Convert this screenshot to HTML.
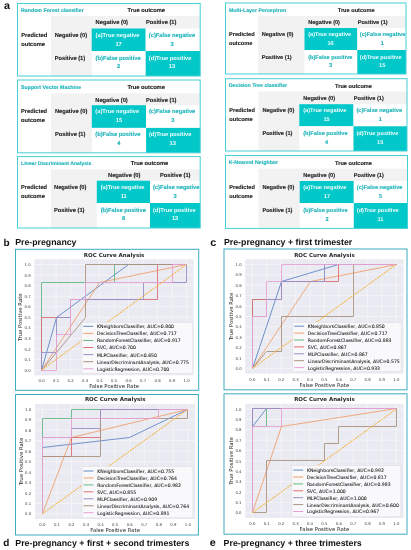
<!DOCTYPE html>
<html><head><meta charset="utf-8"><title>Figure</title>
<style>html,body{margin:0;padding:0;background:#fff}body{width:411px;height:550px;position:relative;overflow:hidden}</style>
</head><body>
<svg width="411" height="550" viewBox="0 0 411 550" style="position:absolute;left:0;top:0" text-rendering="geometricPrecision">
<rect x="51.00" y="16.00" width="149.20" height="60.00" fill="#f2f2f2"/>
<rect x="91.70" y="28.50" width="54.00" height="22.50" fill="#02c8c9"/>
<rect x="145.70" y="28.50" width="54.50" height="22.50" fill="#ffffff"/>
<rect x="91.70" y="51.00" width="54.00" height="25.00" fill="#ffffff"/>
<rect x="145.70" y="51.00" width="54.50" height="25.00" fill="#02c8c9"/>
<rect x="17.50" y="3.50" width="182.70" height="72.50" fill="none" stroke="#45cfd6" stroke-width="1"/>
<text x="21.00" y="12.00" font-family="'Liberation Sans',Arial,sans-serif" font-size="5.25" font-weight="bold" fill="#1fb4b9" text-anchor="start" stroke="#1fb4b9" stroke-width="0.12">Random Forest classifier</text>
<text x="127.50" y="12.20" font-family="'Liberation Sans',Arial,sans-serif" font-size="5.72" font-weight="bold" fill="#222" text-anchor="start" stroke="#222" stroke-width="0.12">True outcome</text>
<text x="95.60" y="24.30" font-family="'Liberation Sans',Arial,sans-serif" font-size="5.72" font-weight="bold" fill="#222" text-anchor="start" stroke="#222" stroke-width="0.12">Negative (0)</text>
<text x="145.90" y="24.30" font-family="'Liberation Sans',Arial,sans-serif" font-size="5.72" font-weight="bold" fill="#222" text-anchor="start" stroke="#222" stroke-width="0.12">Positive (1)</text>
<text x="54.70" y="37.30" font-family="'Liberation Sans',Arial,sans-serif" font-size="5.72" font-weight="bold" fill="#222" text-anchor="start" stroke="#222" stroke-width="0.12">Negative (0)</text>
<text x="54.70" y="59.60" font-family="'Liberation Sans',Arial,sans-serif" font-size="5.72" font-weight="bold" fill="#222" text-anchor="start" stroke="#222" stroke-width="0.12">Positive (1)</text>
<text x="21.20" y="37.10" font-family="'Liberation Sans',Arial,sans-serif" font-size="5.72" font-weight="bold" fill="#222" text-anchor="start" stroke="#222" stroke-width="0.12">Predicted</text>
<text x="21.20" y="45.80" font-family="'Liberation Sans',Arial,sans-serif" font-size="5.72" font-weight="bold" fill="#222" text-anchor="start" stroke="#222" stroke-width="0.12">outcome</text>
<text x="95.60" y="37.30" font-family="'Liberation Sans',Arial,sans-serif" font-size="5.72" font-weight="bold" fill="#f2fbfb" text-anchor="start">(a)True negative</text>
<text x="118.60" y="46.00" font-family="'Liberation Sans',Arial,sans-serif" font-size="5.72" font-weight="bold" fill="#f2fbfb" text-anchor="middle">17</text>
<text x="148.80" y="37.30" font-family="'Liberation Sans',Arial,sans-serif" font-size="5.72" font-weight="bold" fill="#1fb4b9" text-anchor="start" stroke="#1fb4b9" stroke-width="0.12">(c)False negative</text>
<text x="172.00" y="46.00" font-family="'Liberation Sans',Arial,sans-serif" font-size="5.72" font-weight="bold" fill="#1fb4b9" text-anchor="middle" stroke="#1fb4b9" stroke-width="0.12">3</text>
<text x="95.60" y="59.60" font-family="'Liberation Sans',Arial,sans-serif" font-size="5.72" font-weight="bold" fill="#1fb4b9" text-anchor="start" stroke="#1fb4b9" stroke-width="0.12">(b)False positive</text>
<text x="118.60" y="68.30" font-family="'Liberation Sans',Arial,sans-serif" font-size="5.72" font-weight="bold" fill="#1fb4b9" text-anchor="middle" stroke="#1fb4b9" stroke-width="0.12">2</text>
<text x="148.80" y="59.60" font-family="'Liberation Sans',Arial,sans-serif" font-size="5.72" font-weight="bold" fill="#f2fbfb" text-anchor="start">(d)True positive</text>
<text x="172.00" y="68.30" font-family="'Liberation Sans',Arial,sans-serif" font-size="5.72" font-weight="bold" fill="#f2fbfb" text-anchor="middle">13</text>
<rect x="51.00" y="93.30" width="149.20" height="59.50" fill="#f2f2f2"/>
<rect x="91.80" y="105.20" width="54.30" height="22.70" fill="#02c8c9"/>
<rect x="146.10" y="105.20" width="54.10" height="22.70" fill="#ffffff"/>
<rect x="91.80" y="127.90" width="54.30" height="24.90" fill="#ffffff"/>
<rect x="146.10" y="127.90" width="54.10" height="24.90" fill="#02c8c9"/>
<rect x="17.50" y="80.00" width="182.70" height="72.80" fill="none" stroke="#45cfd6" stroke-width="1"/>
<text x="21.00" y="88.60" font-family="'Liberation Sans',Arial,sans-serif" font-size="5.25" font-weight="bold" fill="#1fb4b9" text-anchor="start" stroke="#1fb4b9" stroke-width="0.12">Support Vector Machine</text>
<text x="127.40" y="88.70" font-family="'Liberation Sans',Arial,sans-serif" font-size="5.72" font-weight="bold" fill="#222" text-anchor="start" stroke="#222" stroke-width="0.12">True outcome</text>
<text x="95.30" y="101.60" font-family="'Liberation Sans',Arial,sans-serif" font-size="5.72" font-weight="bold" fill="#222" text-anchor="start" stroke="#222" stroke-width="0.12">Negative (0)</text>
<text x="146.00" y="101.60" font-family="'Liberation Sans',Arial,sans-serif" font-size="5.72" font-weight="bold" fill="#222" text-anchor="start" stroke="#222" stroke-width="0.12">Positive (1)</text>
<text x="54.90" y="113.20" font-family="'Liberation Sans',Arial,sans-serif" font-size="5.72" font-weight="bold" fill="#222" text-anchor="start" stroke="#222" stroke-width="0.12">Negative (0)</text>
<text x="54.90" y="136.10" font-family="'Liberation Sans',Arial,sans-serif" font-size="5.72" font-weight="bold" fill="#222" text-anchor="start" stroke="#222" stroke-width="0.12">Positive (1)</text>
<text x="21.00" y="113.10" font-family="'Liberation Sans',Arial,sans-serif" font-size="5.72" font-weight="bold" fill="#222" text-anchor="start" stroke="#222" stroke-width="0.12">Predicted</text>
<text x="21.00" y="121.80" font-family="'Liberation Sans',Arial,sans-serif" font-size="5.72" font-weight="bold" fill="#222" text-anchor="start" stroke="#222" stroke-width="0.12">outcome</text>
<text x="95.30" y="113.20" font-family="'Liberation Sans',Arial,sans-serif" font-size="5.72" font-weight="bold" fill="#f2fbfb" text-anchor="start">(a)True negative</text>
<text x="118.90" y="121.90" font-family="'Liberation Sans',Arial,sans-serif" font-size="5.72" font-weight="bold" fill="#f2fbfb" text-anchor="middle">15</text>
<text x="148.90" y="113.20" font-family="'Liberation Sans',Arial,sans-serif" font-size="5.72" font-weight="bold" fill="#1fb4b9" text-anchor="start" stroke="#1fb4b9" stroke-width="0.12">(c)False negative</text>
<text x="172.80" y="121.90" font-family="'Liberation Sans',Arial,sans-serif" font-size="5.72" font-weight="bold" fill="#1fb4b9" text-anchor="middle" stroke="#1fb4b9" stroke-width="0.12">3</text>
<text x="95.30" y="136.10" font-family="'Liberation Sans',Arial,sans-serif" font-size="5.72" font-weight="bold" fill="#1fb4b9" text-anchor="start" stroke="#1fb4b9" stroke-width="0.12">(b)False positive</text>
<text x="118.90" y="144.80" font-family="'Liberation Sans',Arial,sans-serif" font-size="5.72" font-weight="bold" fill="#1fb4b9" text-anchor="middle" stroke="#1fb4b9" stroke-width="0.12">4</text>
<text x="148.90" y="136.10" font-family="'Liberation Sans',Arial,sans-serif" font-size="5.72" font-weight="bold" fill="#f2fbfb" text-anchor="start">(d)True positive</text>
<text x="172.80" y="144.80" font-family="'Liberation Sans',Arial,sans-serif" font-size="5.72" font-weight="bold" fill="#f2fbfb" text-anchor="middle">13</text>
<rect x="51.00" y="169.30" width="149.20" height="58.70" fill="#f2f2f2"/>
<rect x="96.80" y="180.70" width="53.20" height="22.30" fill="#02c8c9"/>
<rect x="150.00" y="180.70" width="50.20" height="22.30" fill="#ffffff"/>
<rect x="96.80" y="203.00" width="53.20" height="25.00" fill="#ffffff"/>
<rect x="150.00" y="203.00" width="50.20" height="25.00" fill="#02c8c9"/>
<rect x="17.50" y="156.60" width="182.70" height="71.40" fill="none" stroke="#45cfd6" stroke-width="1"/>
<text x="21.00" y="165.20" font-family="'Liberation Sans',Arial,sans-serif" font-size="5.15" font-weight="bold" fill="#1fb4b9" text-anchor="start" stroke="#1fb4b9" stroke-width="0.12">Linear Discriminant Analysis</text>
<text x="130.80" y="165.30" font-family="'Liberation Sans',Arial,sans-serif" font-size="5.72" font-weight="bold" fill="#222" text-anchor="start" stroke="#222" stroke-width="0.12">True outcome</text>
<text x="108.00" y="177.40" font-family="'Liberation Sans',Arial,sans-serif" font-size="5.72" font-weight="bold" fill="#222" text-anchor="start" stroke="#222" stroke-width="0.12">Negative (0)</text>
<text x="160.00" y="177.40" font-family="'Liberation Sans',Arial,sans-serif" font-size="5.72" font-weight="bold" fill="#222" text-anchor="start" stroke="#222" stroke-width="0.12">Positive (1)</text>
<text x="54.00" y="189.40" font-family="'Liberation Sans',Arial,sans-serif" font-size="5.72" font-weight="bold" fill="#222" text-anchor="start" stroke="#222" stroke-width="0.12">Negative (0)</text>
<text x="54.00" y="211.80" font-family="'Liberation Sans',Arial,sans-serif" font-size="5.72" font-weight="bold" fill="#222" text-anchor="start" stroke="#222" stroke-width="0.12">Positive (1)</text>
<text x="21.00" y="189.40" font-family="'Liberation Sans',Arial,sans-serif" font-size="5.72" font-weight="bold" fill="#222" text-anchor="start" stroke="#222" stroke-width="0.12">Predicted</text>
<text x="21.00" y="198.00" font-family="'Liberation Sans',Arial,sans-serif" font-size="5.72" font-weight="bold" fill="#222" text-anchor="start" stroke="#222" stroke-width="0.12">outcome</text>
<text x="100.70" y="189.40" font-family="'Liberation Sans',Arial,sans-serif" font-size="5.72" font-weight="bold" fill="#f2fbfb" text-anchor="start">(a)True negative</text>
<text x="123.70" y="198.00" font-family="'Liberation Sans',Arial,sans-serif" font-size="5.72" font-weight="bold" fill="#f2fbfb" text-anchor="middle">11</text>
<text x="153.00" y="189.40" font-family="'Liberation Sans',Arial,sans-serif" font-size="5.72" font-weight="bold" fill="#1fb4b9" text-anchor="start" stroke="#1fb4b9" stroke-width="0.12">(c)False negative</text>
<text x="175.10" y="198.00" font-family="'Liberation Sans',Arial,sans-serif" font-size="5.72" font-weight="bold" fill="#1fb4b9" text-anchor="middle" stroke="#1fb4b9" stroke-width="0.12">3</text>
<text x="100.70" y="211.80" font-family="'Liberation Sans',Arial,sans-serif" font-size="5.72" font-weight="bold" fill="#1fb4b9" text-anchor="start" stroke="#1fb4b9" stroke-width="0.12">(b)False positive</text>
<text x="123.70" y="220.40" font-family="'Liberation Sans',Arial,sans-serif" font-size="5.72" font-weight="bold" fill="#1fb4b9" text-anchor="middle" stroke="#1fb4b9" stroke-width="0.12">8</text>
<text x="153.00" y="211.80" font-family="'Liberation Sans',Arial,sans-serif" font-size="5.72" font-weight="bold" fill="#f2fbfb" text-anchor="start">(d)True positive</text>
<text x="175.10" y="220.40" font-family="'Liberation Sans',Arial,sans-serif" font-size="5.72" font-weight="bold" fill="#f2fbfb" text-anchor="middle">13</text>
<rect x="258.20" y="15.80" width="147.80" height="58.20" fill="#f2f2f2"/>
<rect x="304.50" y="28.00" width="52.80" height="22.00" fill="#02c8c9"/>
<rect x="357.30" y="28.00" width="48.70" height="22.00" fill="#ffffff"/>
<rect x="304.50" y="50.00" width="52.80" height="24.00" fill="#ffffff"/>
<rect x="357.30" y="50.00" width="48.70" height="24.00" fill="#02c8c9"/>
<rect x="225.50" y="3.00" width="180.50" height="71.00" fill="none" stroke="#45cfd6" stroke-width="1"/>
<text x="229.00" y="11.80" font-family="'Liberation Sans',Arial,sans-serif" font-size="5.25" font-weight="bold" fill="#1fb4b9" text-anchor="start" stroke="#1fb4b9" stroke-width="0.12">Multi-Layer Perceptron</text>
<text x="337.80" y="12.00" font-family="'Liberation Sans',Arial,sans-serif" font-size="5.62" font-weight="bold" fill="#222" text-anchor="start" stroke="#222" stroke-width="0.12">True outcome</text>
<text x="308.20" y="24.00" font-family="'Liberation Sans',Arial,sans-serif" font-size="5.62" font-weight="bold" fill="#222" text-anchor="start" stroke="#222" stroke-width="0.12">Negative (0)</text>
<text x="357.70" y="24.00" font-family="'Liberation Sans',Arial,sans-serif" font-size="5.62" font-weight="bold" fill="#222" text-anchor="start" stroke="#222" stroke-width="0.12">Positive (1)</text>
<text x="261.70" y="36.40" font-family="'Liberation Sans',Arial,sans-serif" font-size="5.62" font-weight="bold" fill="#222" text-anchor="start" stroke="#222" stroke-width="0.12">Negative (0)</text>
<text x="261.70" y="58.80" font-family="'Liberation Sans',Arial,sans-serif" font-size="5.62" font-weight="bold" fill="#222" text-anchor="start" stroke="#222" stroke-width="0.12">Positive (1)</text>
<text x="229.00" y="36.30" font-family="'Liberation Sans',Arial,sans-serif" font-size="5.62" font-weight="bold" fill="#222" text-anchor="start" stroke="#222" stroke-width="0.12">Predicted</text>
<text x="229.00" y="44.80" font-family="'Liberation Sans',Arial,sans-serif" font-size="5.62" font-weight="bold" fill="#222" text-anchor="start" stroke="#222" stroke-width="0.12">outcome</text>
<text x="308.20" y="36.40" font-family="'Liberation Sans',Arial,sans-serif" font-size="5.62" font-weight="bold" fill="#f2fbfb" text-anchor="start">(a)True negative</text>
<text x="330.50" y="44.90" font-family="'Liberation Sans',Arial,sans-serif" font-size="5.62" font-weight="bold" fill="#f2fbfb" text-anchor="middle">16</text>
<text x="359.80" y="36.40" font-family="'Liberation Sans',Arial,sans-serif" font-size="5.62" font-weight="bold" fill="#1fb4b9" text-anchor="start" stroke="#1fb4b9" stroke-width="0.12">(c)False negative</text>
<text x="382.20" y="44.90" font-family="'Liberation Sans',Arial,sans-serif" font-size="5.62" font-weight="bold" fill="#1fb4b9" text-anchor="middle" stroke="#1fb4b9" stroke-width="0.12">1</text>
<text x="308.20" y="58.80" font-family="'Liberation Sans',Arial,sans-serif" font-size="5.62" font-weight="bold" fill="#1fb4b9" text-anchor="start" stroke="#1fb4b9" stroke-width="0.12">(b)False positive</text>
<text x="330.50" y="67.30" font-family="'Liberation Sans',Arial,sans-serif" font-size="5.62" font-weight="bold" fill="#1fb4b9" text-anchor="middle" stroke="#1fb4b9" stroke-width="0.12">3</text>
<text x="359.80" y="58.80" font-family="'Liberation Sans',Arial,sans-serif" font-size="5.62" font-weight="bold" fill="#f2fbfb" text-anchor="start">(d)True positive</text>
<text x="382.20" y="67.30" font-family="'Liberation Sans',Arial,sans-serif" font-size="5.62" font-weight="bold" fill="#f2fbfb" text-anchor="middle">15</text>
<rect x="258.50" y="91.50" width="148.50" height="59.50" fill="#f2f2f2"/>
<rect x="299.30" y="104.20" width="54.20" height="22.10" fill="#02c8c9"/>
<rect x="353.50" y="104.20" width="53.50" height="22.10" fill="#ffffff"/>
<rect x="299.30" y="126.30" width="54.20" height="24.70" fill="#ffffff"/>
<rect x="353.50" y="126.30" width="53.50" height="24.70" fill="#02c8c9"/>
<rect x="225.50" y="78.70" width="181.50" height="72.30" fill="none" stroke="#45cfd6" stroke-width="1"/>
<text x="228.80" y="87.00" font-family="'Liberation Sans',Arial,sans-serif" font-size="5.25" font-weight="bold" fill="#1fb4b9" text-anchor="start" stroke="#1fb4b9" stroke-width="0.12">Decision Tree classifier</text>
<text x="335.10" y="87.60" font-family="'Liberation Sans',Arial,sans-serif" font-size="5.64" font-weight="bold" fill="#222" text-anchor="start" stroke="#222" stroke-width="0.12">True outcome</text>
<text x="303.20" y="99.80" font-family="'Liberation Sans',Arial,sans-serif" font-size="5.64" font-weight="bold" fill="#222" text-anchor="start" stroke="#222" stroke-width="0.12">Negative (0)</text>
<text x="353.80" y="99.80" font-family="'Liberation Sans',Arial,sans-serif" font-size="5.64" font-weight="bold" fill="#222" text-anchor="start" stroke="#222" stroke-width="0.12">Positive (1)</text>
<text x="262.40" y="112.20" font-family="'Liberation Sans',Arial,sans-serif" font-size="5.64" font-weight="bold" fill="#222" text-anchor="start" stroke="#222" stroke-width="0.12">Negative (0)</text>
<text x="262.40" y="135.30" font-family="'Liberation Sans',Arial,sans-serif" font-size="5.64" font-weight="bold" fill="#222" text-anchor="start" stroke="#222" stroke-width="0.12">Positive (1)</text>
<text x="229.30" y="112.10" font-family="'Liberation Sans',Arial,sans-serif" font-size="5.64" font-weight="bold" fill="#222" text-anchor="start" stroke="#222" stroke-width="0.12">Predicted</text>
<text x="229.30" y="120.80" font-family="'Liberation Sans',Arial,sans-serif" font-size="5.64" font-weight="bold" fill="#222" text-anchor="start" stroke="#222" stroke-width="0.12">outcome</text>
<text x="303.20" y="112.20" font-family="'Liberation Sans',Arial,sans-serif" font-size="5.64" font-weight="bold" fill="#f2fbfb" text-anchor="start">(a)True negative</text>
<text x="326.60" y="120.90" font-family="'Liberation Sans',Arial,sans-serif" font-size="5.64" font-weight="bold" fill="#f2fbfb" text-anchor="middle">15</text>
<text x="356.40" y="112.20" font-family="'Liberation Sans',Arial,sans-serif" font-size="5.64" font-weight="bold" fill="#1fb4b9" text-anchor="start" stroke="#1fb4b9" stroke-width="0.12">(c)False negative</text>
<text x="380.20" y="120.90" font-family="'Liberation Sans',Arial,sans-serif" font-size="5.64" font-weight="bold" fill="#1fb4b9" text-anchor="middle" stroke="#1fb4b9" stroke-width="0.12">1</text>
<text x="303.20" y="135.30" font-family="'Liberation Sans',Arial,sans-serif" font-size="5.64" font-weight="bold" fill="#1fb4b9" text-anchor="start" stroke="#1fb4b9" stroke-width="0.12">(b)False positive</text>
<text x="326.60" y="144.00" font-family="'Liberation Sans',Arial,sans-serif" font-size="5.64" font-weight="bold" fill="#1fb4b9" text-anchor="middle" stroke="#1fb4b9" stroke-width="0.12">4</text>
<text x="356.40" y="135.30" font-family="'Liberation Sans',Arial,sans-serif" font-size="5.64" font-weight="bold" fill="#f2fbfb" text-anchor="start">(d)True positive</text>
<text x="380.20" y="144.00" font-family="'Liberation Sans',Arial,sans-serif" font-size="5.64" font-weight="bold" fill="#f2fbfb" text-anchor="middle">15</text>
<rect x="258.50" y="168.60" width="149.00" height="59.80" fill="#f2f2f2"/>
<rect x="299.70" y="181.00" width="54.10" height="22.00" fill="#02c8c9"/>
<rect x="353.80" y="181.00" width="53.70" height="22.00" fill="#ffffff"/>
<rect x="299.70" y="203.00" width="54.10" height="25.40" fill="#ffffff"/>
<rect x="353.80" y="203.00" width="53.70" height="25.40" fill="#02c8c9"/>
<rect x="225.50" y="155.50" width="182.00" height="72.90" fill="none" stroke="#45cfd6" stroke-width="1"/>
<text x="228.80" y="164.20" font-family="'Liberation Sans',Arial,sans-serif" font-size="5.25" font-weight="bold" fill="#1fb4b9" text-anchor="start" stroke="#1fb4b9" stroke-width="0.12">K-Nearest Neighbor</text>
<text x="335.10" y="164.60" font-family="'Liberation Sans',Arial,sans-serif" font-size="5.63" font-weight="bold" fill="#222" text-anchor="start" stroke="#222" stroke-width="0.12">True outcome</text>
<text x="303.20" y="177.10" font-family="'Liberation Sans',Arial,sans-serif" font-size="5.63" font-weight="bold" fill="#222" text-anchor="start" stroke="#222" stroke-width="0.12">Negative (0)</text>
<text x="353.80" y="177.10" font-family="'Liberation Sans',Arial,sans-serif" font-size="5.63" font-weight="bold" fill="#222" text-anchor="start" stroke="#222" stroke-width="0.12">Positive (1)</text>
<text x="262.40" y="189.10" font-family="'Liberation Sans',Arial,sans-serif" font-size="5.63" font-weight="bold" fill="#222" text-anchor="start" stroke="#222" stroke-width="0.12">Negative (0)</text>
<text x="262.40" y="211.80" font-family="'Liberation Sans',Arial,sans-serif" font-size="5.63" font-weight="bold" fill="#222" text-anchor="start" stroke="#222" stroke-width="0.12">Positive (1)</text>
<text x="229.30" y="189.10" font-family="'Liberation Sans',Arial,sans-serif" font-size="5.63" font-weight="bold" fill="#222" text-anchor="start" stroke="#222" stroke-width="0.12">Predicted</text>
<text x="229.30" y="198.10" font-family="'Liberation Sans',Arial,sans-serif" font-size="5.63" font-weight="bold" fill="#222" text-anchor="start" stroke="#222" stroke-width="0.12">outcome</text>
<text x="303.20" y="189.10" font-family="'Liberation Sans',Arial,sans-serif" font-size="5.63" font-weight="bold" fill="#f2fbfb" text-anchor="start">(a)True negative</text>
<text x="327.00" y="198.10" font-family="'Liberation Sans',Arial,sans-serif" font-size="5.63" font-weight="bold" fill="#f2fbfb" text-anchor="middle">17</text>
<text x="356.80" y="189.10" font-family="'Liberation Sans',Arial,sans-serif" font-size="5.63" font-weight="bold" fill="#1fb4b9" text-anchor="start" stroke="#1fb4b9" stroke-width="0.12">(c)False negative</text>
<text x="380.50" y="198.10" font-family="'Liberation Sans',Arial,sans-serif" font-size="5.63" font-weight="bold" fill="#1fb4b9" text-anchor="middle" stroke="#1fb4b9" stroke-width="0.12">5</text>
<text x="303.20" y="211.80" font-family="'Liberation Sans',Arial,sans-serif" font-size="5.63" font-weight="bold" fill="#1fb4b9" text-anchor="start" stroke="#1fb4b9" stroke-width="0.12">(b)False positive</text>
<text x="327.00" y="220.80" font-family="'Liberation Sans',Arial,sans-serif" font-size="5.63" font-weight="bold" fill="#1fb4b9" text-anchor="middle" stroke="#1fb4b9" stroke-width="0.12">2</text>
<text x="356.80" y="211.80" font-family="'Liberation Sans',Arial,sans-serif" font-size="5.63" font-weight="bold" fill="#f2fbfb" text-anchor="start">(d)True positive</text>
<text x="380.50" y="220.80" font-family="'Liberation Sans',Arial,sans-serif" font-size="5.63" font-weight="bold" fill="#f2fbfb" text-anchor="middle">11</text>
<rect x="34.35" y="259.23" width="159.50" height="116.05" fill="#eaeaf2"/>
<line x1="41.60" y1="259.23" x2="41.60" y2="375.27" stroke="#ffffff" stroke-width="0.6" stroke-opacity="0.75"/>
<line x1="34.35" y1="370.00" x2="193.85" y2="370.00" stroke="#ffffff" stroke-width="0.6" stroke-opacity="0.75"/>
<line x1="56.10" y1="259.23" x2="56.10" y2="375.27" stroke="#ffffff" stroke-width="0.6" stroke-opacity="0.75"/>
<line x1="34.35" y1="359.45" x2="193.85" y2="359.45" stroke="#ffffff" stroke-width="0.6" stroke-opacity="0.75"/>
<line x1="70.60" y1="259.23" x2="70.60" y2="375.27" stroke="#ffffff" stroke-width="0.6" stroke-opacity="0.75"/>
<line x1="34.35" y1="348.90" x2="193.85" y2="348.90" stroke="#ffffff" stroke-width="0.6" stroke-opacity="0.75"/>
<line x1="85.10" y1="259.23" x2="85.10" y2="375.27" stroke="#ffffff" stroke-width="0.6" stroke-opacity="0.75"/>
<line x1="34.35" y1="338.35" x2="193.85" y2="338.35" stroke="#ffffff" stroke-width="0.6" stroke-opacity="0.75"/>
<line x1="99.60" y1="259.23" x2="99.60" y2="375.27" stroke="#ffffff" stroke-width="0.6" stroke-opacity="0.75"/>
<line x1="34.35" y1="327.80" x2="193.85" y2="327.80" stroke="#ffffff" stroke-width="0.6" stroke-opacity="0.75"/>
<line x1="114.10" y1="259.23" x2="114.10" y2="375.27" stroke="#ffffff" stroke-width="0.6" stroke-opacity="0.75"/>
<line x1="34.35" y1="317.25" x2="193.85" y2="317.25" stroke="#ffffff" stroke-width="0.6" stroke-opacity="0.75"/>
<line x1="128.60" y1="259.23" x2="128.60" y2="375.27" stroke="#ffffff" stroke-width="0.6" stroke-opacity="0.75"/>
<line x1="34.35" y1="306.70" x2="193.85" y2="306.70" stroke="#ffffff" stroke-width="0.6" stroke-opacity="0.75"/>
<line x1="143.10" y1="259.23" x2="143.10" y2="375.27" stroke="#ffffff" stroke-width="0.6" stroke-opacity="0.75"/>
<line x1="34.35" y1="296.15" x2="193.85" y2="296.15" stroke="#ffffff" stroke-width="0.6" stroke-opacity="0.75"/>
<line x1="157.60" y1="259.23" x2="157.60" y2="375.27" stroke="#ffffff" stroke-width="0.6" stroke-opacity="0.75"/>
<line x1="34.35" y1="285.60" x2="193.85" y2="285.60" stroke="#ffffff" stroke-width="0.6" stroke-opacity="0.75"/>
<line x1="172.10" y1="259.23" x2="172.10" y2="375.27" stroke="#ffffff" stroke-width="0.6" stroke-opacity="0.75"/>
<line x1="34.35" y1="275.05" x2="193.85" y2="275.05" stroke="#ffffff" stroke-width="0.6" stroke-opacity="0.75"/>
<line x1="186.60" y1="259.23" x2="186.60" y2="375.27" stroke="#ffffff" stroke-width="0.6" stroke-opacity="0.75"/>
<line x1="34.35" y1="264.50" x2="193.85" y2="264.50" stroke="#ffffff" stroke-width="0.6" stroke-opacity="0.75"/>
<polyline points="41.50,370.50 56.50,317.50 128.50,264.50 186.50,264.50" fill="none" stroke="#6088c6" stroke-width="0.9" stroke-linejoin="miter"/>
<polyline points="41.50,370.50 99.50,282.50 186.50,264.50" fill="none" stroke="#f0a06c" stroke-width="0.9" stroke-linejoin="miter"/>
<polyline points="41.50,370.50 41.50,282.50 114.50,282.50 114.50,264.50 186.50,264.50" fill="none" stroke="#62b883" stroke-width="0.9" stroke-linejoin="miter"/>
<polyline points="41.50,370.50 41.50,317.50 70.50,317.50 70.50,299.50 157.50,299.50 157.50,264.50 186.50,264.50" fill="none" stroke="#dc6e74" stroke-width="0.9" stroke-linejoin="miter"/>
<polyline points="41.50,370.50 41.50,352.50 56.50,352.50 56.50,317.50 70.50,317.50 70.50,299.50 143.50,299.50 143.50,282.50 186.50,282.50 186.50,264.50" fill="none" stroke="#978dc8" stroke-width="0.9" stroke-linejoin="miter"/>
<polyline points="41.50,370.50 85.50,317.50 85.50,264.50 186.50,264.50" fill="none" stroke="#aa927f" stroke-width="0.9" stroke-linejoin="miter"/>
<polyline points="41.50,370.50 56.50,370.50 56.50,334.50 70.50,334.50 70.50,299.50 85.50,299.50 85.50,282.50 172.50,282.50 172.50,264.50 186.50,264.50" fill="none" stroke="#e8a0d3" stroke-width="0.9" stroke-linejoin="miter"/>
<line x1="41.60" y1="370.00" x2="186.60" y2="264.50" stroke="#f6b647" stroke-width="1.05" stroke-dasharray="1.8 0.9"/>
<rect x="81.80" y="322.40" width="111.00" height="51.10" rx="1" fill="#fbfbfd" fill-opacity="0.85" stroke="#d8d8de" stroke-width="0.5"/>
<line x1="83.30" y1="326.30" x2="93.30" y2="326.30" stroke="#6088c6" stroke-width="1"/>
<text x="97.00" y="328.20" font-family="'DejaVu Sans',Verdana,sans-serif" font-size="4.6" font-weight="normal" fill="#1e1e1e" text-anchor="start" stroke="#1e1e1e" stroke-width="0.08">KNeighborsClassifier, AUC=0.800</text>
<line x1="83.30" y1="333.38" x2="93.30" y2="333.38" stroke="#f0a06c" stroke-width="1"/>
<text x="97.00" y="335.28" font-family="'DejaVu Sans',Verdana,sans-serif" font-size="4.6" font-weight="normal" fill="#1e1e1e" text-anchor="start" stroke="#1e1e1e" stroke-width="0.08">DecisionTreeClassifier, AUC=0.717</text>
<line x1="83.30" y1="340.46" x2="93.30" y2="340.46" stroke="#62b883" stroke-width="1"/>
<text x="97.00" y="342.36" font-family="'DejaVu Sans',Verdana,sans-serif" font-size="4.6" font-weight="normal" fill="#1e1e1e" text-anchor="start" stroke="#1e1e1e" stroke-width="0.08">RandomForestClassifier, AUC=0.917</text>
<line x1="83.30" y1="347.54" x2="93.30" y2="347.54" stroke="#dc6e74" stroke-width="1"/>
<text x="97.00" y="349.44" font-family="'DejaVu Sans',Verdana,sans-serif" font-size="4.6" font-weight="normal" fill="#1e1e1e" text-anchor="start" stroke="#1e1e1e" stroke-width="0.08">SVC, AUC=0.700</text>
<line x1="83.30" y1="354.62" x2="93.30" y2="354.62" stroke="#978dc8" stroke-width="1"/>
<text x="97.00" y="356.52" font-family="'DejaVu Sans',Verdana,sans-serif" font-size="4.6" font-weight="normal" fill="#1e1e1e" text-anchor="start" stroke="#1e1e1e" stroke-width="0.08">MLPClassifier, AUC=0.650</text>
<line x1="83.30" y1="361.70" x2="93.30" y2="361.70" stroke="#aa927f" stroke-width="1"/>
<text x="97.00" y="363.60" font-family="'DejaVu Sans',Verdana,sans-serif" font-size="4.6" font-weight="normal" fill="#1e1e1e" text-anchor="start" stroke="#1e1e1e" stroke-width="0.08">LinearDiscriminantAnalysis, AUC=0.775</text>
<line x1="83.30" y1="368.78" x2="93.30" y2="368.78" stroke="#e8a0d3" stroke-width="1"/>
<text x="97.00" y="370.68" font-family="'DejaVu Sans',Verdana,sans-serif" font-size="4.6" font-weight="normal" fill="#1e1e1e" text-anchor="start" stroke="#1e1e1e" stroke-width="0.08">LogisticRegression, AUC=0.700</text>
<text x="30.60" y="371.60" font-family="'DejaVu Sans',Verdana,sans-serif" font-size="3.85" font-weight="normal" fill="#3a3a3a" text-anchor="end">0.0</text>
<text x="41.60" y="382.00" font-family="'DejaVu Sans',Verdana,sans-serif" font-size="3.85" font-weight="normal" fill="#3a3a3a" text-anchor="middle">0.0</text>
<text x="30.60" y="361.05" font-family="'DejaVu Sans',Verdana,sans-serif" font-size="3.85" font-weight="normal" fill="#3a3a3a" text-anchor="end">0.1</text>
<text x="56.10" y="382.00" font-family="'DejaVu Sans',Verdana,sans-serif" font-size="3.85" font-weight="normal" fill="#3a3a3a" text-anchor="middle">0.1</text>
<text x="30.60" y="350.50" font-family="'DejaVu Sans',Verdana,sans-serif" font-size="3.85" font-weight="normal" fill="#3a3a3a" text-anchor="end">0.2</text>
<text x="70.60" y="382.00" font-family="'DejaVu Sans',Verdana,sans-serif" font-size="3.85" font-weight="normal" fill="#3a3a3a" text-anchor="middle">0.2</text>
<text x="30.60" y="339.95" font-family="'DejaVu Sans',Verdana,sans-serif" font-size="3.85" font-weight="normal" fill="#3a3a3a" text-anchor="end">0.3</text>
<text x="85.10" y="382.00" font-family="'DejaVu Sans',Verdana,sans-serif" font-size="3.85" font-weight="normal" fill="#3a3a3a" text-anchor="middle">0.3</text>
<text x="30.60" y="329.40" font-family="'DejaVu Sans',Verdana,sans-serif" font-size="3.85" font-weight="normal" fill="#3a3a3a" text-anchor="end">0.4</text>
<text x="99.60" y="382.00" font-family="'DejaVu Sans',Verdana,sans-serif" font-size="3.85" font-weight="normal" fill="#3a3a3a" text-anchor="middle">0.4</text>
<text x="30.60" y="318.85" font-family="'DejaVu Sans',Verdana,sans-serif" font-size="3.85" font-weight="normal" fill="#3a3a3a" text-anchor="end">0.5</text>
<text x="114.10" y="382.00" font-family="'DejaVu Sans',Verdana,sans-serif" font-size="3.85" font-weight="normal" fill="#3a3a3a" text-anchor="middle">0.5</text>
<text x="30.60" y="308.30" font-family="'DejaVu Sans',Verdana,sans-serif" font-size="3.85" font-weight="normal" fill="#3a3a3a" text-anchor="end">0.6</text>
<text x="128.60" y="382.00" font-family="'DejaVu Sans',Verdana,sans-serif" font-size="3.85" font-weight="normal" fill="#3a3a3a" text-anchor="middle">0.6</text>
<text x="30.60" y="297.75" font-family="'DejaVu Sans',Verdana,sans-serif" font-size="3.85" font-weight="normal" fill="#3a3a3a" text-anchor="end">0.7</text>
<text x="143.10" y="382.00" font-family="'DejaVu Sans',Verdana,sans-serif" font-size="3.85" font-weight="normal" fill="#3a3a3a" text-anchor="middle">0.7</text>
<text x="30.60" y="287.20" font-family="'DejaVu Sans',Verdana,sans-serif" font-size="3.85" font-weight="normal" fill="#3a3a3a" text-anchor="end">0.8</text>
<text x="157.60" y="382.00" font-family="'DejaVu Sans',Verdana,sans-serif" font-size="3.85" font-weight="normal" fill="#3a3a3a" text-anchor="middle">0.8</text>
<text x="30.60" y="276.65" font-family="'DejaVu Sans',Verdana,sans-serif" font-size="3.85" font-weight="normal" fill="#3a3a3a" text-anchor="end">0.9</text>
<text x="172.10" y="382.00" font-family="'DejaVu Sans',Verdana,sans-serif" font-size="3.85" font-weight="normal" fill="#3a3a3a" text-anchor="middle">0.9</text>
<text x="30.60" y="266.10" font-family="'DejaVu Sans',Verdana,sans-serif" font-size="3.85" font-weight="normal" fill="#3a3a3a" text-anchor="end">1.0</text>
<text x="186.60" y="382.00" font-family="'DejaVu Sans',Verdana,sans-serif" font-size="3.85" font-weight="normal" fill="#3a3a3a" text-anchor="middle">1.0</text>
<text x="114.10" y="388.20" font-family="'DejaVu Sans',Verdana,sans-serif" font-size="5.35" font-weight="normal" fill="#262626" text-anchor="middle">False Positive Rate</text>
<text x="0" y="0" transform="translate(22.20,317.25) rotate(-90)" font-family="'DejaVu Sans',Verdana,sans-serif" font-size="5.35" fill="#262626" text-anchor="middle">True Positive Rate</text>
<text x="114.10" y="256.60" font-family="'DejaVu Sans',Verdana,sans-serif" font-size="5.5" font-weight="bold" fill="#262626" text-anchor="middle">ROC Curve Analysis</text>
<rect x="15.50" y="249.30" width="183.20" height="141.00" fill="none" stroke="#3cabc3" stroke-width="1"/>
<rect x="245.20" y="259.20" width="158.40" height="114.40" fill="#eaeaf2"/>
<line x1="252.40" y1="259.20" x2="252.40" y2="373.60" stroke="#ffffff" stroke-width="0.6" stroke-opacity="0.75"/>
<line x1="245.20" y1="368.40" x2="403.60" y2="368.40" stroke="#ffffff" stroke-width="0.6" stroke-opacity="0.75"/>
<line x1="266.80" y1="259.20" x2="266.80" y2="373.60" stroke="#ffffff" stroke-width="0.6" stroke-opacity="0.75"/>
<line x1="245.20" y1="358.00" x2="403.60" y2="358.00" stroke="#ffffff" stroke-width="0.6" stroke-opacity="0.75"/>
<line x1="281.20" y1="259.20" x2="281.20" y2="373.60" stroke="#ffffff" stroke-width="0.6" stroke-opacity="0.75"/>
<line x1="245.20" y1="347.60" x2="403.60" y2="347.60" stroke="#ffffff" stroke-width="0.6" stroke-opacity="0.75"/>
<line x1="295.60" y1="259.20" x2="295.60" y2="373.60" stroke="#ffffff" stroke-width="0.6" stroke-opacity="0.75"/>
<line x1="245.20" y1="337.20" x2="403.60" y2="337.20" stroke="#ffffff" stroke-width="0.6" stroke-opacity="0.75"/>
<line x1="310.00" y1="259.20" x2="310.00" y2="373.60" stroke="#ffffff" stroke-width="0.6" stroke-opacity="0.75"/>
<line x1="245.20" y1="326.80" x2="403.60" y2="326.80" stroke="#ffffff" stroke-width="0.6" stroke-opacity="0.75"/>
<line x1="324.40" y1="259.20" x2="324.40" y2="373.60" stroke="#ffffff" stroke-width="0.6" stroke-opacity="0.75"/>
<line x1="245.20" y1="316.40" x2="403.60" y2="316.40" stroke="#ffffff" stroke-width="0.6" stroke-opacity="0.75"/>
<line x1="338.80" y1="259.20" x2="338.80" y2="373.60" stroke="#ffffff" stroke-width="0.6" stroke-opacity="0.75"/>
<line x1="245.20" y1="306.00" x2="403.60" y2="306.00" stroke="#ffffff" stroke-width="0.6" stroke-opacity="0.75"/>
<line x1="353.20" y1="259.20" x2="353.20" y2="373.60" stroke="#ffffff" stroke-width="0.6" stroke-opacity="0.75"/>
<line x1="245.20" y1="295.60" x2="403.60" y2="295.60" stroke="#ffffff" stroke-width="0.6" stroke-opacity="0.75"/>
<line x1="367.60" y1="259.20" x2="367.60" y2="373.60" stroke="#ffffff" stroke-width="0.6" stroke-opacity="0.75"/>
<line x1="245.20" y1="285.20" x2="403.60" y2="285.20" stroke="#ffffff" stroke-width="0.6" stroke-opacity="0.75"/>
<line x1="382.00" y1="259.20" x2="382.00" y2="373.60" stroke="#ffffff" stroke-width="0.6" stroke-opacity="0.75"/>
<line x1="245.20" y1="274.80" x2="403.60" y2="274.80" stroke="#ffffff" stroke-width="0.6" stroke-opacity="0.75"/>
<line x1="396.40" y1="259.20" x2="396.40" y2="373.60" stroke="#ffffff" stroke-width="0.6" stroke-opacity="0.75"/>
<line x1="245.20" y1="264.40" x2="403.60" y2="264.40" stroke="#ffffff" stroke-width="0.6" stroke-opacity="0.75"/>
<polyline points="252.50,368.50 281.50,281.50 338.50,264.50 396.50,264.50" fill="none" stroke="#6088c6" stroke-width="0.9" stroke-linejoin="miter"/>
<polyline points="252.50,368.50 310.50,281.50 396.50,264.50" fill="none" stroke="#f0a06c" stroke-width="0.9" stroke-linejoin="miter"/>
<polyline points="252.50,368.50 252.50,299.50 281.50,299.50 281.50,281.50 324.50,281.50 324.50,264.50 396.50,264.50" fill="none" stroke="#62b883" stroke-width="0.9" stroke-linejoin="miter"/>
<polyline points="252.50,368.50 252.50,299.50 281.50,299.50 281.50,281.50 338.50,281.50 338.50,264.50 396.50,264.50" fill="none" stroke="#dc6e74" stroke-width="0.9" stroke-linejoin="miter"/>
<polyline points="252.50,368.50 252.50,316.50 266.50,316.50 266.50,299.50 281.50,299.50 281.50,281.50 324.50,281.50 324.50,264.50 396.50,264.50" fill="none" stroke="#978dc8" stroke-width="0.9" stroke-linejoin="miter"/>
<polyline points="252.50,368.50 266.50,351.50 281.50,351.50 281.50,316.50 353.50,316.50 353.50,264.50 396.50,264.50" fill="none" stroke="#aa927f" stroke-width="0.9" stroke-linejoin="miter"/>
<polyline points="252.50,368.50 252.50,316.50 266.50,316.50 266.50,281.50 281.50,281.50 281.50,264.50 396.50,264.50" fill="none" stroke="#e8a0d3" stroke-width="0.9" stroke-linejoin="miter"/>
<line x1="252.40" y1="368.40" x2="396.40" y2="264.40" stroke="#f6b647" stroke-width="1.05" stroke-dasharray="1.8 0.9"/>
<rect x="292.60" y="322.40" width="108.70" height="49.20" rx="1" fill="#fbfbfd" fill-opacity="0.85" stroke="#d8d8de" stroke-width="0.5"/>
<line x1="294.10" y1="326.20" x2="304.10" y2="326.20" stroke="#6088c6" stroke-width="1"/>
<text x="307.80" y="328.10" font-family="'DejaVu Sans',Verdana,sans-serif" font-size="4.6" font-weight="normal" fill="#1e1e1e" text-anchor="start" stroke="#1e1e1e" stroke-width="0.08">KNeighborsClassifier, AUC=0.850</text>
<line x1="294.10" y1="333.10" x2="304.10" y2="333.10" stroke="#f0a06c" stroke-width="1"/>
<text x="307.80" y="335.00" font-family="'DejaVu Sans',Verdana,sans-serif" font-size="4.6" font-weight="normal" fill="#1e1e1e" text-anchor="start" stroke="#1e1e1e" stroke-width="0.08">DecisionTreeClassifier, AUC=0.717</text>
<line x1="294.10" y1="340.00" x2="304.10" y2="340.00" stroke="#62b883" stroke-width="1"/>
<text x="307.80" y="341.90" font-family="'DejaVu Sans',Verdana,sans-serif" font-size="4.6" font-weight="normal" fill="#1e1e1e" text-anchor="start" stroke="#1e1e1e" stroke-width="0.08">RandomForestClassifier, AUC=0.883</text>
<line x1="294.10" y1="346.90" x2="304.10" y2="346.90" stroke="#dc6e74" stroke-width="1"/>
<text x="307.80" y="348.80" font-family="'DejaVu Sans',Verdana,sans-serif" font-size="4.6" font-weight="normal" fill="#1e1e1e" text-anchor="start" stroke="#1e1e1e" stroke-width="0.08">SVC, AUC=0.867</text>
<line x1="294.10" y1="353.80" x2="304.10" y2="353.80" stroke="#978dc8" stroke-width="1"/>
<text x="307.80" y="355.70" font-family="'DejaVu Sans',Verdana,sans-serif" font-size="4.6" font-weight="normal" fill="#1e1e1e" text-anchor="start" stroke="#1e1e1e" stroke-width="0.08">MLPClassifier, AUC=0.867</text>
<line x1="294.10" y1="360.70" x2="304.10" y2="360.70" stroke="#aa927f" stroke-width="1"/>
<text x="307.80" y="362.60" font-family="'DejaVu Sans',Verdana,sans-serif" font-size="4.6" font-weight="normal" fill="#1e1e1e" text-anchor="start" stroke="#1e1e1e" stroke-width="0.08">LinearDiscriminantAnalysis, AUC=0.575</text>
<line x1="294.10" y1="367.60" x2="304.10" y2="367.60" stroke="#e8a0d3" stroke-width="1"/>
<text x="307.80" y="369.50" font-family="'DejaVu Sans',Verdana,sans-serif" font-size="4.6" font-weight="normal" fill="#1e1e1e" text-anchor="start" stroke="#1e1e1e" stroke-width="0.08">LogisticRegression, AUC=0.933</text>
<text x="241.70" y="370.00" font-family="'DejaVu Sans',Verdana,sans-serif" font-size="3.85" font-weight="normal" fill="#3a3a3a" text-anchor="end">0.0</text>
<text x="252.40" y="381.40" font-family="'DejaVu Sans',Verdana,sans-serif" font-size="3.85" font-weight="normal" fill="#3a3a3a" text-anchor="middle">0.0</text>
<text x="241.70" y="359.60" font-family="'DejaVu Sans',Verdana,sans-serif" font-size="3.85" font-weight="normal" fill="#3a3a3a" text-anchor="end">0.1</text>
<text x="266.80" y="381.40" font-family="'DejaVu Sans',Verdana,sans-serif" font-size="3.85" font-weight="normal" fill="#3a3a3a" text-anchor="middle">0.1</text>
<text x="241.70" y="349.20" font-family="'DejaVu Sans',Verdana,sans-serif" font-size="3.85" font-weight="normal" fill="#3a3a3a" text-anchor="end">0.2</text>
<text x="281.20" y="381.40" font-family="'DejaVu Sans',Verdana,sans-serif" font-size="3.85" font-weight="normal" fill="#3a3a3a" text-anchor="middle">0.2</text>
<text x="241.70" y="338.80" font-family="'DejaVu Sans',Verdana,sans-serif" font-size="3.85" font-weight="normal" fill="#3a3a3a" text-anchor="end">0.3</text>
<text x="295.60" y="381.40" font-family="'DejaVu Sans',Verdana,sans-serif" font-size="3.85" font-weight="normal" fill="#3a3a3a" text-anchor="middle">0.3</text>
<text x="241.70" y="328.40" font-family="'DejaVu Sans',Verdana,sans-serif" font-size="3.85" font-weight="normal" fill="#3a3a3a" text-anchor="end">0.4</text>
<text x="310.00" y="381.40" font-family="'DejaVu Sans',Verdana,sans-serif" font-size="3.85" font-weight="normal" fill="#3a3a3a" text-anchor="middle">0.4</text>
<text x="241.70" y="318.00" font-family="'DejaVu Sans',Verdana,sans-serif" font-size="3.85" font-weight="normal" fill="#3a3a3a" text-anchor="end">0.5</text>
<text x="324.40" y="381.40" font-family="'DejaVu Sans',Verdana,sans-serif" font-size="3.85" font-weight="normal" fill="#3a3a3a" text-anchor="middle">0.5</text>
<text x="241.70" y="307.60" font-family="'DejaVu Sans',Verdana,sans-serif" font-size="3.85" font-weight="normal" fill="#3a3a3a" text-anchor="end">0.6</text>
<text x="338.80" y="381.40" font-family="'DejaVu Sans',Verdana,sans-serif" font-size="3.85" font-weight="normal" fill="#3a3a3a" text-anchor="middle">0.6</text>
<text x="241.70" y="297.20" font-family="'DejaVu Sans',Verdana,sans-serif" font-size="3.85" font-weight="normal" fill="#3a3a3a" text-anchor="end">0.7</text>
<text x="353.20" y="381.40" font-family="'DejaVu Sans',Verdana,sans-serif" font-size="3.85" font-weight="normal" fill="#3a3a3a" text-anchor="middle">0.7</text>
<text x="241.70" y="286.80" font-family="'DejaVu Sans',Verdana,sans-serif" font-size="3.85" font-weight="normal" fill="#3a3a3a" text-anchor="end">0.8</text>
<text x="367.60" y="381.40" font-family="'DejaVu Sans',Verdana,sans-serif" font-size="3.85" font-weight="normal" fill="#3a3a3a" text-anchor="middle">0.8</text>
<text x="241.70" y="276.40" font-family="'DejaVu Sans',Verdana,sans-serif" font-size="3.85" font-weight="normal" fill="#3a3a3a" text-anchor="end">0.9</text>
<text x="382.00" y="381.40" font-family="'DejaVu Sans',Verdana,sans-serif" font-size="3.85" font-weight="normal" fill="#3a3a3a" text-anchor="middle">0.9</text>
<text x="241.70" y="266.00" font-family="'DejaVu Sans',Verdana,sans-serif" font-size="3.85" font-weight="normal" fill="#3a3a3a" text-anchor="end">1.0</text>
<text x="396.40" y="381.40" font-family="'DejaVu Sans',Verdana,sans-serif" font-size="3.85" font-weight="normal" fill="#3a3a3a" text-anchor="middle">1.0</text>
<text x="324.40" y="387.40" font-family="'DejaVu Sans',Verdana,sans-serif" font-size="5.35" font-weight="normal" fill="#262626" text-anchor="middle">False Positive Rate</text>
<text x="0" y="0" transform="translate(232.90,316.40) rotate(-90)" font-family="'DejaVu Sans',Verdana,sans-serif" font-size="5.35" fill="#262626" text-anchor="middle">True Positive Rate</text>
<text x="324.40" y="256.60" font-family="'DejaVu Sans',Verdana,sans-serif" font-size="5.5" font-weight="bold" fill="#262626" text-anchor="middle">ROC Curve Analysis</text>
<rect x="224.00" y="249.00" width="183.00" height="140.80" fill="none" stroke="#3cabc3" stroke-width="1"/>
<rect x="35.12" y="404.07" width="160.05" height="114.95" fill="#eaeaf2"/>
<line x1="42.40" y1="404.07" x2="42.40" y2="519.02" stroke="#ffffff" stroke-width="0.6" stroke-opacity="0.75"/>
<line x1="35.12" y1="513.80" x2="195.18" y2="513.80" stroke="#ffffff" stroke-width="0.6" stroke-opacity="0.75"/>
<line x1="56.95" y1="404.07" x2="56.95" y2="519.02" stroke="#ffffff" stroke-width="0.6" stroke-opacity="0.75"/>
<line x1="35.12" y1="503.35" x2="195.18" y2="503.35" stroke="#ffffff" stroke-width="0.6" stroke-opacity="0.75"/>
<line x1="71.50" y1="404.07" x2="71.50" y2="519.02" stroke="#ffffff" stroke-width="0.6" stroke-opacity="0.75"/>
<line x1="35.12" y1="492.90" x2="195.18" y2="492.90" stroke="#ffffff" stroke-width="0.6" stroke-opacity="0.75"/>
<line x1="86.05" y1="404.07" x2="86.05" y2="519.02" stroke="#ffffff" stroke-width="0.6" stroke-opacity="0.75"/>
<line x1="35.12" y1="482.45" x2="195.18" y2="482.45" stroke="#ffffff" stroke-width="0.6" stroke-opacity="0.75"/>
<line x1="100.60" y1="404.07" x2="100.60" y2="519.02" stroke="#ffffff" stroke-width="0.6" stroke-opacity="0.75"/>
<line x1="35.12" y1="472.00" x2="195.18" y2="472.00" stroke="#ffffff" stroke-width="0.6" stroke-opacity="0.75"/>
<line x1="115.15" y1="404.07" x2="115.15" y2="519.02" stroke="#ffffff" stroke-width="0.6" stroke-opacity="0.75"/>
<line x1="35.12" y1="461.55" x2="195.18" y2="461.55" stroke="#ffffff" stroke-width="0.6" stroke-opacity="0.75"/>
<line x1="129.70" y1="404.07" x2="129.70" y2="519.02" stroke="#ffffff" stroke-width="0.6" stroke-opacity="0.75"/>
<line x1="35.12" y1="451.10" x2="195.18" y2="451.10" stroke="#ffffff" stroke-width="0.6" stroke-opacity="0.75"/>
<line x1="144.25" y1="404.07" x2="144.25" y2="519.02" stroke="#ffffff" stroke-width="0.6" stroke-opacity="0.75"/>
<line x1="35.12" y1="440.65" x2="195.18" y2="440.65" stroke="#ffffff" stroke-width="0.6" stroke-opacity="0.75"/>
<line x1="158.80" y1="404.07" x2="158.80" y2="519.02" stroke="#ffffff" stroke-width="0.6" stroke-opacity="0.75"/>
<line x1="35.12" y1="430.20" x2="195.18" y2="430.20" stroke="#ffffff" stroke-width="0.6" stroke-opacity="0.75"/>
<line x1="173.35" y1="404.07" x2="173.35" y2="519.02" stroke="#ffffff" stroke-width="0.6" stroke-opacity="0.75"/>
<line x1="35.12" y1="419.75" x2="195.18" y2="419.75" stroke="#ffffff" stroke-width="0.6" stroke-opacity="0.75"/>
<line x1="187.90" y1="404.07" x2="187.90" y2="519.02" stroke="#ffffff" stroke-width="0.6" stroke-opacity="0.75"/>
<line x1="35.12" y1="409.30" x2="195.18" y2="409.30" stroke="#ffffff" stroke-width="0.6" stroke-opacity="0.75"/>
<polyline points="42.50,513.50 42.50,447.50 129.50,437.50 187.50,409.50" fill="none" stroke="#6088c6" stroke-width="0.9" stroke-linejoin="miter"/>
<polyline points="42.50,513.50 71.50,437.50 187.50,409.50" fill="none" stroke="#f0a06c" stroke-width="0.9" stroke-linejoin="miter"/>
<polyline points="42.50,513.50 42.50,418.50 71.50,418.50 71.50,409.50 187.50,409.50" fill="none" stroke="#62b883" stroke-width="0.9" stroke-linejoin="miter"/>
<polyline points="42.50,513.50 42.50,456.50 71.50,456.50 71.50,437.50 100.50,437.50 100.50,409.50 187.50,409.50" fill="none" stroke="#dc6e74" stroke-width="0.9" stroke-linejoin="miter"/>
<polyline points="42.50,513.50 42.50,437.50 71.50,437.50 71.50,428.50 100.50,428.50 100.50,409.50 187.50,409.50" fill="none" stroke="#978dc8" stroke-width="0.9" stroke-linejoin="miter"/>
<polyline points="42.50,513.50 42.50,456.50 100.50,456.50 100.50,418.50 187.50,418.50 187.50,409.50" fill="none" stroke="#aa927f" stroke-width="0.9" stroke-linejoin="miter"/>
<polyline points="42.50,513.50 42.50,437.50 71.50,437.50 71.50,418.50 158.50,418.50 158.50,409.50 187.50,409.50" fill="none" stroke="#e8a0d3" stroke-width="0.9" stroke-linejoin="miter"/>
<line x1="42.40" y1="513.80" x2="187.90" y2="409.30" stroke="#f6b647" stroke-width="1.05" stroke-dasharray="1.8 0.9"/>
<rect x="82.00" y="466.50" width="111.00" height="51.30" rx="1" fill="#fbfbfd" fill-opacity="0.85" stroke="#d8d8de" stroke-width="0.5"/>
<line x1="83.50" y1="471.00" x2="93.50" y2="471.00" stroke="#6088c6" stroke-width="1"/>
<text x="97.20" y="472.90" font-family="'DejaVu Sans',Verdana,sans-serif" font-size="4.6" font-weight="normal" fill="#1e1e1e" text-anchor="start" stroke="#1e1e1e" stroke-width="0.08">KNeighborsClassifier, AUC=0.755</text>
<line x1="83.50" y1="477.95" x2="93.50" y2="477.95" stroke="#f0a06c" stroke-width="1"/>
<text x="97.20" y="479.85" font-family="'DejaVu Sans',Verdana,sans-serif" font-size="4.6" font-weight="normal" fill="#1e1e1e" text-anchor="start" stroke="#1e1e1e" stroke-width="0.08">DecisionTreeClassifier, AUC=0.764</text>
<line x1="83.50" y1="484.90" x2="93.50" y2="484.90" stroke="#62b883" stroke-width="1"/>
<text x="97.20" y="486.80" font-family="'DejaVu Sans',Verdana,sans-serif" font-size="4.6" font-weight="normal" fill="#1e1e1e" text-anchor="start" stroke="#1e1e1e" stroke-width="0.08">RandomForestClassifier, AUC=0.982</text>
<line x1="83.50" y1="491.85" x2="93.50" y2="491.85" stroke="#dc6e74" stroke-width="1"/>
<text x="97.20" y="493.75" font-family="'DejaVu Sans',Verdana,sans-serif" font-size="4.6" font-weight="normal" fill="#1e1e1e" text-anchor="start" stroke="#1e1e1e" stroke-width="0.08">SVC, AUC=0.855</text>
<line x1="83.50" y1="498.80" x2="93.50" y2="498.80" stroke="#978dc8" stroke-width="1"/>
<text x="97.20" y="500.70" font-family="'DejaVu Sans',Verdana,sans-serif" font-size="4.6" font-weight="normal" fill="#1e1e1e" text-anchor="start" stroke="#1e1e1e" stroke-width="0.08">MLPClassifier, AUC=0.909</text>
<line x1="83.50" y1="505.75" x2="93.50" y2="505.75" stroke="#aa927f" stroke-width="1"/>
<text x="97.20" y="507.65" font-family="'DejaVu Sans',Verdana,sans-serif" font-size="4.6" font-weight="normal" fill="#1e1e1e" text-anchor="start" stroke="#1e1e1e" stroke-width="0.08">LinearDiscriminantAnalysis, AUC=0.764</text>
<line x1="83.50" y1="512.70" x2="93.50" y2="512.70" stroke="#e8a0d3" stroke-width="1"/>
<text x="97.20" y="514.60" font-family="'DejaVu Sans',Verdana,sans-serif" font-size="4.6" font-weight="normal" fill="#1e1e1e" text-anchor="start" stroke="#1e1e1e" stroke-width="0.08">LogisticRegression, AUC=0.891</text>
<text x="31.20" y="515.40" font-family="'DejaVu Sans',Verdana,sans-serif" font-size="3.85" font-weight="normal" fill="#3a3a3a" text-anchor="end">0.0</text>
<text x="42.40" y="526.20" font-family="'DejaVu Sans',Verdana,sans-serif" font-size="3.85" font-weight="normal" fill="#3a3a3a" text-anchor="middle">0.0</text>
<text x="31.20" y="504.95" font-family="'DejaVu Sans',Verdana,sans-serif" font-size="3.85" font-weight="normal" fill="#3a3a3a" text-anchor="end">0.1</text>
<text x="56.95" y="526.20" font-family="'DejaVu Sans',Verdana,sans-serif" font-size="3.85" font-weight="normal" fill="#3a3a3a" text-anchor="middle">0.1</text>
<text x="31.20" y="494.50" font-family="'DejaVu Sans',Verdana,sans-serif" font-size="3.85" font-weight="normal" fill="#3a3a3a" text-anchor="end">0.2</text>
<text x="71.50" y="526.20" font-family="'DejaVu Sans',Verdana,sans-serif" font-size="3.85" font-weight="normal" fill="#3a3a3a" text-anchor="middle">0.2</text>
<text x="31.20" y="484.05" font-family="'DejaVu Sans',Verdana,sans-serif" font-size="3.85" font-weight="normal" fill="#3a3a3a" text-anchor="end">0.3</text>
<text x="86.05" y="526.20" font-family="'DejaVu Sans',Verdana,sans-serif" font-size="3.85" font-weight="normal" fill="#3a3a3a" text-anchor="middle">0.3</text>
<text x="31.20" y="473.60" font-family="'DejaVu Sans',Verdana,sans-serif" font-size="3.85" font-weight="normal" fill="#3a3a3a" text-anchor="end">0.4</text>
<text x="100.60" y="526.20" font-family="'DejaVu Sans',Verdana,sans-serif" font-size="3.85" font-weight="normal" fill="#3a3a3a" text-anchor="middle">0.4</text>
<text x="31.20" y="463.15" font-family="'DejaVu Sans',Verdana,sans-serif" font-size="3.85" font-weight="normal" fill="#3a3a3a" text-anchor="end">0.5</text>
<text x="115.15" y="526.20" font-family="'DejaVu Sans',Verdana,sans-serif" font-size="3.85" font-weight="normal" fill="#3a3a3a" text-anchor="middle">0.5</text>
<text x="31.20" y="452.70" font-family="'DejaVu Sans',Verdana,sans-serif" font-size="3.85" font-weight="normal" fill="#3a3a3a" text-anchor="end">0.6</text>
<text x="129.70" y="526.20" font-family="'DejaVu Sans',Verdana,sans-serif" font-size="3.85" font-weight="normal" fill="#3a3a3a" text-anchor="middle">0.6</text>
<text x="31.20" y="442.25" font-family="'DejaVu Sans',Verdana,sans-serif" font-size="3.85" font-weight="normal" fill="#3a3a3a" text-anchor="end">0.7</text>
<text x="144.25" y="526.20" font-family="'DejaVu Sans',Verdana,sans-serif" font-size="3.85" font-weight="normal" fill="#3a3a3a" text-anchor="middle">0.7</text>
<text x="31.20" y="431.80" font-family="'DejaVu Sans',Verdana,sans-serif" font-size="3.85" font-weight="normal" fill="#3a3a3a" text-anchor="end">0.8</text>
<text x="158.80" y="526.20" font-family="'DejaVu Sans',Verdana,sans-serif" font-size="3.85" font-weight="normal" fill="#3a3a3a" text-anchor="middle">0.8</text>
<text x="31.20" y="421.35" font-family="'DejaVu Sans',Verdana,sans-serif" font-size="3.85" font-weight="normal" fill="#3a3a3a" text-anchor="end">0.9</text>
<text x="173.35" y="526.20" font-family="'DejaVu Sans',Verdana,sans-serif" font-size="3.85" font-weight="normal" fill="#3a3a3a" text-anchor="middle">0.9</text>
<text x="31.20" y="410.90" font-family="'DejaVu Sans',Verdana,sans-serif" font-size="3.85" font-weight="normal" fill="#3a3a3a" text-anchor="end">1.0</text>
<text x="187.90" y="526.20" font-family="'DejaVu Sans',Verdana,sans-serif" font-size="3.85" font-weight="normal" fill="#3a3a3a" text-anchor="middle">1.0</text>
<text x="115.15" y="532.40" font-family="'DejaVu Sans',Verdana,sans-serif" font-size="5.35" font-weight="normal" fill="#262626" text-anchor="middle">False Positive Rate</text>
<text x="0" y="0" transform="translate(23.00,461.55) rotate(-90)" font-family="'DejaVu Sans',Verdana,sans-serif" font-size="5.35" fill="#262626" text-anchor="middle">True Positive Rate</text>
<text x="115.15" y="401.10" font-family="'DejaVu Sans',Verdana,sans-serif" font-size="5.5" font-weight="bold" fill="#262626" text-anchor="middle">ROC Curve Analysis</text>
<rect x="15.50" y="394.50" width="182.90" height="140.50" fill="none" stroke="#3cabc3" stroke-width="1"/>
<rect x="245.20" y="403.81" width="158.40" height="114.18" fill="#eaeaf2"/>
<line x1="252.40" y1="403.81" x2="252.40" y2="517.99" stroke="#ffffff" stroke-width="0.6" stroke-opacity="0.75"/>
<line x1="245.20" y1="512.80" x2="403.60" y2="512.80" stroke="#ffffff" stroke-width="0.6" stroke-opacity="0.75"/>
<line x1="266.80" y1="403.81" x2="266.80" y2="517.99" stroke="#ffffff" stroke-width="0.6" stroke-opacity="0.75"/>
<line x1="245.20" y1="502.42" x2="403.60" y2="502.42" stroke="#ffffff" stroke-width="0.6" stroke-opacity="0.75"/>
<line x1="281.20" y1="403.81" x2="281.20" y2="517.99" stroke="#ffffff" stroke-width="0.6" stroke-opacity="0.75"/>
<line x1="245.20" y1="492.04" x2="403.60" y2="492.04" stroke="#ffffff" stroke-width="0.6" stroke-opacity="0.75"/>
<line x1="295.60" y1="403.81" x2="295.60" y2="517.99" stroke="#ffffff" stroke-width="0.6" stroke-opacity="0.75"/>
<line x1="245.20" y1="481.66" x2="403.60" y2="481.66" stroke="#ffffff" stroke-width="0.6" stroke-opacity="0.75"/>
<line x1="310.00" y1="403.81" x2="310.00" y2="517.99" stroke="#ffffff" stroke-width="0.6" stroke-opacity="0.75"/>
<line x1="245.20" y1="471.28" x2="403.60" y2="471.28" stroke="#ffffff" stroke-width="0.6" stroke-opacity="0.75"/>
<line x1="324.40" y1="403.81" x2="324.40" y2="517.99" stroke="#ffffff" stroke-width="0.6" stroke-opacity="0.75"/>
<line x1="245.20" y1="460.90" x2="403.60" y2="460.90" stroke="#ffffff" stroke-width="0.6" stroke-opacity="0.75"/>
<line x1="338.80" y1="403.81" x2="338.80" y2="517.99" stroke="#ffffff" stroke-width="0.6" stroke-opacity="0.75"/>
<line x1="245.20" y1="450.52" x2="403.60" y2="450.52" stroke="#ffffff" stroke-width="0.6" stroke-opacity="0.75"/>
<line x1="353.20" y1="403.81" x2="353.20" y2="517.99" stroke="#ffffff" stroke-width="0.6" stroke-opacity="0.75"/>
<line x1="245.20" y1="440.14" x2="403.60" y2="440.14" stroke="#ffffff" stroke-width="0.6" stroke-opacity="0.75"/>
<line x1="367.60" y1="403.81" x2="367.60" y2="517.99" stroke="#ffffff" stroke-width="0.6" stroke-opacity="0.75"/>
<line x1="245.20" y1="429.76" x2="403.60" y2="429.76" stroke="#ffffff" stroke-width="0.6" stroke-opacity="0.75"/>
<line x1="382.00" y1="403.81" x2="382.00" y2="517.99" stroke="#ffffff" stroke-width="0.6" stroke-opacity="0.75"/>
<line x1="245.20" y1="419.38" x2="403.60" y2="419.38" stroke="#ffffff" stroke-width="0.6" stroke-opacity="0.75"/>
<line x1="396.40" y1="403.81" x2="396.40" y2="517.99" stroke="#ffffff" stroke-width="0.6" stroke-opacity="0.75"/>
<line x1="245.20" y1="409.00" x2="403.60" y2="409.00" stroke="#ffffff" stroke-width="0.6" stroke-opacity="0.75"/>
<polyline points="252.50,512.50 252.50,426.50 266.50,408.50 396.50,408.50" fill="none" stroke="#6088c6" stroke-width="0.9" stroke-linejoin="miter"/>
<polyline points="252.50,512.50 281.50,426.50 396.50,408.50" fill="none" stroke="#f0a06c" stroke-width="0.9" stroke-linejoin="miter"/>
<polyline points="252.50,512.50 252.50,426.50 266.50,426.50 266.50,408.50 396.50,408.50" fill="none" stroke="#62b883" stroke-width="0.9" stroke-linejoin="miter"/>
<polyline points="252.50,512.50 252.50,408.50 396.50,408.50" fill="none" stroke="#dc6e74" stroke-width="0.9" stroke-linejoin="miter"/>
<polyline points="252.50,512.50 252.50,408.50 396.50,408.50" fill="none" stroke="#978dc8" stroke-width="0.9" stroke-linejoin="miter"/>
<polyline points="252.50,512.50 266.50,512.50 266.50,460.50 324.50,460.50 324.50,443.50 338.50,443.50 338.50,426.50 396.50,426.50 396.50,408.50" fill="none" stroke="#aa927f" stroke-width="0.9" stroke-linejoin="miter"/>
<polyline points="252.50,512.50 252.50,426.50 281.50,426.50 281.50,408.50 396.50,408.50" fill="none" stroke="#e8a0d3" stroke-width="0.9" stroke-linejoin="miter"/>
<line x1="252.40" y1="512.80" x2="396.40" y2="409.00" stroke="#f6b647" stroke-width="1.05" stroke-dasharray="1.8 0.9"/>
<rect x="291.70" y="465.50" width="109.10" height="51.20" rx="1" fill="#fbfbfd" fill-opacity="0.85" stroke="#d8d8de" stroke-width="0.5"/>
<line x1="293.20" y1="470.10" x2="303.20" y2="470.10" stroke="#6088c6" stroke-width="1"/>
<text x="306.90" y="472.00" font-family="'DejaVu Sans',Verdana,sans-serif" font-size="4.6" font-weight="normal" fill="#1e1e1e" text-anchor="start" stroke="#1e1e1e" stroke-width="0.08">KNeighborsClassifier, AUC=0.992</text>
<line x1="293.20" y1="477.00" x2="303.20" y2="477.00" stroke="#f0a06c" stroke-width="1"/>
<text x="306.90" y="478.90" font-family="'DejaVu Sans',Verdana,sans-serif" font-size="4.6" font-weight="normal" fill="#1e1e1e" text-anchor="start" stroke="#1e1e1e" stroke-width="0.08">DecisionTreeClassifier, AUC=0.817</text>
<line x1="293.20" y1="483.90" x2="303.20" y2="483.90" stroke="#62b883" stroke-width="1"/>
<text x="306.90" y="485.80" font-family="'DejaVu Sans',Verdana,sans-serif" font-size="4.6" font-weight="normal" fill="#1e1e1e" text-anchor="start" stroke="#1e1e1e" stroke-width="0.08">RandomForestClassifier, AUC=0.983</text>
<line x1="293.20" y1="490.80" x2="303.20" y2="490.80" stroke="#dc6e74" stroke-width="1"/>
<text x="306.90" y="492.70" font-family="'DejaVu Sans',Verdana,sans-serif" font-size="4.6" font-weight="normal" fill="#1e1e1e" text-anchor="start" stroke="#1e1e1e" stroke-width="0.08">SVC, AUC=1.000</text>
<line x1="293.20" y1="497.70" x2="303.20" y2="497.70" stroke="#978dc8" stroke-width="1"/>
<text x="306.90" y="499.60" font-family="'DejaVu Sans',Verdana,sans-serif" font-size="4.6" font-weight="normal" fill="#1e1e1e" text-anchor="start" stroke="#1e1e1e" stroke-width="0.08">MLPClassifier, AUC=1.000</text>
<line x1="293.20" y1="504.60" x2="303.20" y2="504.60" stroke="#aa927f" stroke-width="1"/>
<text x="306.90" y="506.50" font-family="'DejaVu Sans',Verdana,sans-serif" font-size="4.6" font-weight="normal" fill="#1e1e1e" text-anchor="start" stroke="#1e1e1e" stroke-width="0.08">LinearDiscriminantAnalysis, AUC=0.600</text>
<line x1="293.20" y1="511.50" x2="303.20" y2="511.50" stroke="#e8a0d3" stroke-width="1"/>
<text x="306.90" y="513.40" font-family="'DejaVu Sans',Verdana,sans-serif" font-size="4.6" font-weight="normal" fill="#1e1e1e" text-anchor="start" stroke="#1e1e1e" stroke-width="0.08">LogisticRegression, AUC=0.967</text>
<text x="241.50" y="514.40" font-family="'DejaVu Sans',Verdana,sans-serif" font-size="3.85" font-weight="normal" fill="#3a3a3a" text-anchor="end">0.0</text>
<text x="252.40" y="525.00" font-family="'DejaVu Sans',Verdana,sans-serif" font-size="3.85" font-weight="normal" fill="#3a3a3a" text-anchor="middle">0.0</text>
<text x="241.50" y="504.02" font-family="'DejaVu Sans',Verdana,sans-serif" font-size="3.85" font-weight="normal" fill="#3a3a3a" text-anchor="end">0.1</text>
<text x="266.80" y="525.00" font-family="'DejaVu Sans',Verdana,sans-serif" font-size="3.85" font-weight="normal" fill="#3a3a3a" text-anchor="middle">0.1</text>
<text x="241.50" y="493.64" font-family="'DejaVu Sans',Verdana,sans-serif" font-size="3.85" font-weight="normal" fill="#3a3a3a" text-anchor="end">0.2</text>
<text x="281.20" y="525.00" font-family="'DejaVu Sans',Verdana,sans-serif" font-size="3.85" font-weight="normal" fill="#3a3a3a" text-anchor="middle">0.2</text>
<text x="241.50" y="483.26" font-family="'DejaVu Sans',Verdana,sans-serif" font-size="3.85" font-weight="normal" fill="#3a3a3a" text-anchor="end">0.3</text>
<text x="295.60" y="525.00" font-family="'DejaVu Sans',Verdana,sans-serif" font-size="3.85" font-weight="normal" fill="#3a3a3a" text-anchor="middle">0.3</text>
<text x="241.50" y="472.88" font-family="'DejaVu Sans',Verdana,sans-serif" font-size="3.85" font-weight="normal" fill="#3a3a3a" text-anchor="end">0.4</text>
<text x="310.00" y="525.00" font-family="'DejaVu Sans',Verdana,sans-serif" font-size="3.85" font-weight="normal" fill="#3a3a3a" text-anchor="middle">0.4</text>
<text x="241.50" y="462.50" font-family="'DejaVu Sans',Verdana,sans-serif" font-size="3.85" font-weight="normal" fill="#3a3a3a" text-anchor="end">0.5</text>
<text x="324.40" y="525.00" font-family="'DejaVu Sans',Verdana,sans-serif" font-size="3.85" font-weight="normal" fill="#3a3a3a" text-anchor="middle">0.5</text>
<text x="241.50" y="452.12" font-family="'DejaVu Sans',Verdana,sans-serif" font-size="3.85" font-weight="normal" fill="#3a3a3a" text-anchor="end">0.6</text>
<text x="338.80" y="525.00" font-family="'DejaVu Sans',Verdana,sans-serif" font-size="3.85" font-weight="normal" fill="#3a3a3a" text-anchor="middle">0.6</text>
<text x="241.50" y="441.74" font-family="'DejaVu Sans',Verdana,sans-serif" font-size="3.85" font-weight="normal" fill="#3a3a3a" text-anchor="end">0.7</text>
<text x="353.20" y="525.00" font-family="'DejaVu Sans',Verdana,sans-serif" font-size="3.85" font-weight="normal" fill="#3a3a3a" text-anchor="middle">0.7</text>
<text x="241.50" y="431.36" font-family="'DejaVu Sans',Verdana,sans-serif" font-size="3.85" font-weight="normal" fill="#3a3a3a" text-anchor="end">0.8</text>
<text x="367.60" y="525.00" font-family="'DejaVu Sans',Verdana,sans-serif" font-size="3.85" font-weight="normal" fill="#3a3a3a" text-anchor="middle">0.8</text>
<text x="241.50" y="420.98" font-family="'DejaVu Sans',Verdana,sans-serif" font-size="3.85" font-weight="normal" fill="#3a3a3a" text-anchor="end">0.9</text>
<text x="382.00" y="525.00" font-family="'DejaVu Sans',Verdana,sans-serif" font-size="3.85" font-weight="normal" fill="#3a3a3a" text-anchor="middle">0.9</text>
<text x="241.50" y="410.60" font-family="'DejaVu Sans',Verdana,sans-serif" font-size="3.85" font-weight="normal" fill="#3a3a3a" text-anchor="end">1.0</text>
<text x="396.40" y="525.00" font-family="'DejaVu Sans',Verdana,sans-serif" font-size="3.85" font-weight="normal" fill="#3a3a3a" text-anchor="middle">1.0</text>
<text x="324.40" y="530.90" font-family="'DejaVu Sans',Verdana,sans-serif" font-size="5.35" font-weight="normal" fill="#262626" text-anchor="middle">False Positive Rate</text>
<text x="0" y="0" transform="translate(232.90,460.90) rotate(-90)" font-family="'DejaVu Sans',Verdana,sans-serif" font-size="5.35" fill="#262626" text-anchor="middle">True Positive Rate</text>
<text x="324.40" y="400.60" font-family="'DejaVu Sans',Verdana,sans-serif" font-size="5.5" font-weight="bold" fill="#262626" text-anchor="middle">ROC Curve Analysis</text>
<rect x="224.00" y="393.80" width="183.00" height="140.40" fill="none" stroke="#3cabc3" stroke-width="1"/>
<text x="4.00" y="9.20" font-family="'Liberation Sans',Arial,sans-serif" font-size="10.8" font-weight="bold" fill="#111" text-anchor="start">a</text>
<text x="3.40" y="245.50" font-family="'Liberation Sans',Arial,sans-serif" font-size="10" font-weight="bold" fill="#111" text-anchor="start">b</text>
<text x="15.20" y="245.30" font-family="'Liberation Sans',Arial,sans-serif" font-size="8.75" font-weight="bold" fill="#111" text-anchor="start">Pre-pregnancy</text>
<text x="210.30" y="245.50" font-family="'Liberation Sans',Arial,sans-serif" font-size="10.8" font-weight="bold" fill="#111" text-anchor="start">c</text>
<text x="223.90" y="245.30" font-family="'Liberation Sans',Arial,sans-serif" font-size="8.8" font-weight="bold" fill="#111" text-anchor="start">Pre-pregnancy + first trimester</text>
<text x="3.30" y="545.60" font-family="'Liberation Sans',Arial,sans-serif" font-size="10" font-weight="bold" fill="#111" text-anchor="start">d</text>
<text x="15.30" y="546.00" font-family="'Liberation Sans',Arial,sans-serif" font-size="8.8" font-weight="bold" fill="#111" text-anchor="start">Pre-pregnancy + first + second trimesters</text>
<text x="209.80" y="545.60" font-family="'Liberation Sans',Arial,sans-serif" font-size="10.8" font-weight="bold" fill="#111" text-anchor="start">e</text>
<text x="223.60" y="546.00" font-family="'Liberation Sans',Arial,sans-serif" font-size="8.8" font-weight="bold" fill="#111" text-anchor="start">Pre-pregnancy + three trimesters</text>
</svg>
</body></html>
